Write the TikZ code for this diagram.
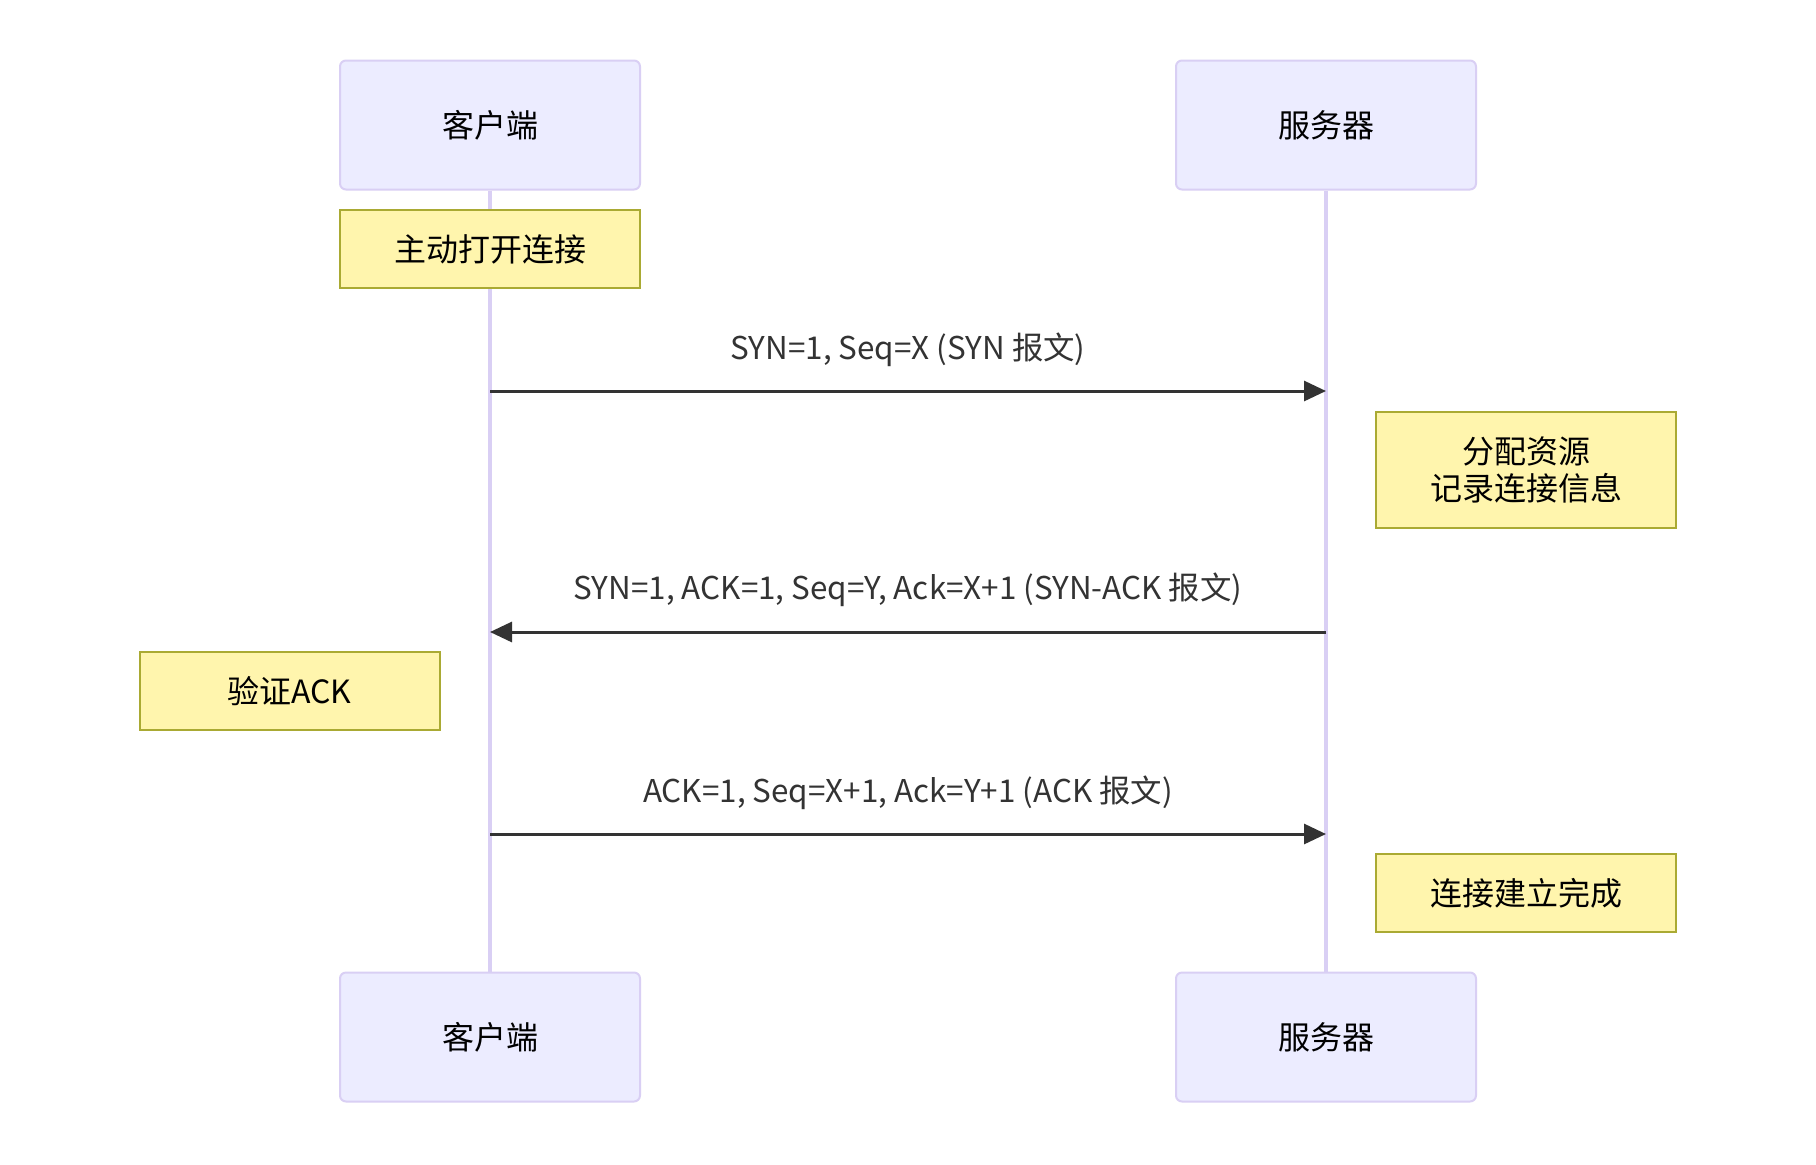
\documentclass[tikz,border=0pt]{standalone}
\usepackage{fontspec}
\setmainfont{Noto Sans CJK SC}
\usetikzlibrary{arrows.meta}
\definecolor{actorfill}{HTML}{ECECFF}
\definecolor{actorline}{HTML}{D9CFF4}
\definecolor{notefill}{HTML}{FFF5AD}
\definecolor{noteline}{HTML}{AAAA33}
\definecolor{msgline}{HTML}{333333}

\begin{document}
\begin{tikzpicture}[
    x=0.5pt, y=-0.5pt,
    actor/.style={draw=actorline, fill=actorfill, line width=1pt, rounded corners=3pt, minimum width=150pt, minimum height=64.5pt, font=\fontsize{16}{19}\selectfont},
    note/.style={draw=noteline, fill=notefill, line width=1pt, minimum width=150pt, minimum height=39pt, align=center, font=\fontsize{16}{18.5}\selectfont},
    life/.style={actorline, line width=1.8pt},
    msg/.style={-{Triangle[length=11pt,width=10pt]}, msgline, line width=1.5pt},
    lbl/.style={text=msgline, font=\fontsize{15.7}{18}\selectfont}
]
\useasboundingbox[fill=white] (0,0) rectangle (1816,1164);
\node[actor] (cTop) at (490,125) {客户端};
\node[actor] (sTop) at (1326,125) {服务器};
\node[actor] (cBot) at (490,1037) {客户端};
\node[actor] (sBot) at (1326,1037) {服务器};
\draw[life] (cTop.south) -- (cBot.north);
\draw[life] (sTop.south) -- (sBot.north);
\node[note] (open) at (490,249) {主动打开连接};
\node[note, minimum height=58pt] (alloc) at (1526,470) {分配资源\\记录连接信息};
\node[note] (check) at (289.5,691) {验证ACK};
\node[note] (done) at (1526,893) {连接建立完成};
% messages
\coordinate (c1) at (490,391);
\coordinate (s1) at (1326,391);
\coordinate (c2) at (490,632);
\coordinate (s2) at (1326,632);
\coordinate (c3) at (490,834);
\coordinate (s3) at (1326,834);
\draw[msg] (c1) -- (s1);
\node[lbl] (m1) at (908,350) {SYN=1, Seq=X (SYN 报文)};
\draw[msg] (s2) -- (c2);
\node[lbl] (m2) at (908,590) {SYN=1, ACK=1, Seq=Y, Ack=X+1 (SYN-ACK 报文)};
\draw[msg] (c3) -- (s3);
\node[lbl] (m3) at (908,793) {ACK=1, Seq=X+1, Ack=Y+1 (ACK 报文)};
\end{tikzpicture}
\end{document}
